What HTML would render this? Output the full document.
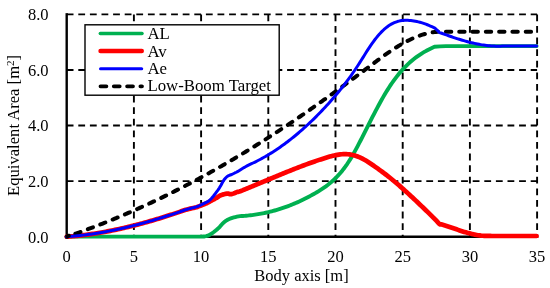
<!DOCTYPE html>
<html><head><meta charset="utf-8"><title>Equivalent Area</title><style>
html,body{margin:0;padding:0;background:#fff;}
body{width:550px;height:288px;overflow:hidden;}
svg{display:block;}
text{font-family:"Liberation Serif","Times New Roman",serif;fill:#000;}
</style></head><body>
<svg width="550" height="288" viewBox="0 0 550 288">
<rect width="550" height="288" fill="#fff"/>
<g stroke="#000" stroke-width="1.9" stroke-dasharray="6.8 4.8" fill="none">
<line x1="133.90" y1="14.38" x2="133.90" y2="236.70"/>
<line x1="201.10" y1="14.38" x2="201.10" y2="236.70"/>
<line x1="268.30" y1="14.38" x2="268.30" y2="236.70"/>
<line x1="335.50" y1="14.38" x2="335.50" y2="236.70"/>
<line x1="402.70" y1="14.38" x2="402.70" y2="236.70"/>
<line x1="469.90" y1="14.38" x2="469.90" y2="236.70"/>
<line x1="537.10" y1="14.38" x2="537.10" y2="236.70"/>
<line x1="66.70" y1="181.12" x2="537.10" y2="181.12"/>
<line x1="66.70" y1="125.54" x2="537.10" y2="125.54"/>
<line x1="66.70" y1="69.96" x2="537.10" y2="69.96"/>
<line x1="66.70" y1="14.38" x2="537.10" y2="14.38"/>
</g>
<g stroke="#000" stroke-width="2.4" fill="none" stroke-linecap="square">
<line x1="66.7" y1="14.38" x2="66.7" y2="236.7"/>
<line x1="66.7" y1="236.7" x2="537.10" y2="236.7"/>
</g>
<g fill="none" stroke-linejoin="round" stroke-linecap="round">
<path d="M66.70,236.65 L200.00,236.65 L201.54,236.58 L203.08,236.53 L204.62,236.45 L206.15,236.18 L207.69,235.72 L209.23,235.01 L210.77,234.06 L212.31,233.08 L213.85,232.01 L215.38,230.83 L216.92,229.54 L218.46,228.12 L220.00,226.54 L221.54,224.76 L223.08,223.13 L224.62,221.74 L226.15,220.64 L227.69,219.76 L229.23,219.02 L230.77,218.41 L232.31,217.89 L233.85,217.45 L235.38,217.05 L236.92,216.69 L238.46,216.37 L240.00,216.10 L241.51,216.02 L243.01,215.93 L244.52,215.82 L246.03,215.70 L247.53,215.57 L249.04,215.41 L250.55,215.25 L252.06,215.07 L253.56,214.87 L255.07,214.66 L256.58,214.43 L258.08,214.19 L259.59,213.93 L261.10,213.66 L262.60,213.37 L264.11,213.07 L265.62,212.75 L267.13,212.41 L268.63,212.06 L270.14,211.69 L271.65,211.31 L273.15,210.91 L274.66,210.50 L276.17,210.07 L277.67,209.62 L279.18,209.16 L280.69,208.68 L282.20,208.19 L283.70,207.68 L285.21,207.15 L286.72,206.61 L288.22,206.05 L289.73,205.47 L291.24,204.88 L292.74,204.27 L294.25,203.64 L295.76,203.00 L297.27,202.34 L298.77,201.67 L300.28,200.97 L301.79,200.26 L303.29,199.54 L304.80,198.79 L306.31,198.03 L307.81,197.25 L309.32,196.46 L310.83,195.64 L312.33,194.82 L313.84,193.97 L315.35,193.10 L316.86,192.22 L318.36,191.32 L319.87,190.39 L321.38,189.44 L322.88,188.45 L324.39,187.42 L325.90,186.35 L327.40,185.23 L328.91,184.05 L330.42,182.83 L331.93,181.54 L333.43,180.18 L334.94,178.76 L336.45,177.25 L337.95,175.67 L339.46,174.01 L340.97,172.25 L342.47,170.41 L343.98,168.46 L345.49,166.42 L347.00,164.27 L348.50,162.01 L350.01,159.65 L351.52,157.17 L353.02,154.58 L354.53,151.90 L356.04,149.13 L357.54,146.30 L359.05,143.42 L360.56,140.49 L362.07,137.54 L363.57,134.57 L365.08,131.58 L366.59,128.59 L368.09,125.60 L369.60,122.61 L371.11,119.64 L372.61,116.70 L374.12,113.78 L375.63,110.89 L377.13,108.05 L378.64,105.25 L380.15,102.50 L381.66,99.80 L383.16,97.16 L384.67,94.58 L386.18,92.06 L387.68,89.62 L389.19,87.24 L390.70,84.94 L392.20,82.73 L393.71,80.60 L395.22,78.54 L396.73,76.57 L398.23,74.68 L399.74,72.85 L401.25,71.11 L402.75,69.43 L404.26,67.82 L405.77,66.28 L407.27,64.80 L408.78,63.38 L410.29,62.03 L411.80,60.73 L413.30,59.49 L414.81,58.30 L416.32,57.16 L417.82,56.08 L419.33,55.04 L420.84,54.04 L422.34,53.09 L423.85,52.19 L425.36,51.32 L426.87,50.48 L428.37,49.68 L429.88,48.92 L431.39,48.19 L432.89,47.48 L434.40,46.80 L440.00,46.40 L446.00,46.15 L460.00,46.10 L536.60,46.10" stroke="#00B050" stroke-width="3.9"/>
<path d="M66.70,236.70 L68.21,236.60 L69.71,236.48 L71.22,236.36 L72.73,236.24 L74.23,236.10 L75.74,235.96 L77.24,235.81 L78.75,235.65 L80.26,235.49 L81.76,235.32 L83.27,235.14 L84.78,234.96 L86.28,234.77 L87.79,234.57 L89.29,234.37 L90.80,234.16 L92.31,233.94 L93.81,233.71 L95.32,233.48 L96.83,233.24 L98.33,233.00 L99.84,232.75 L101.35,232.49 L102.85,232.23 L104.36,231.96 L105.86,231.69 L107.37,231.41 L108.88,231.12 L110.38,230.83 L111.89,230.53 L113.40,230.22 L114.90,229.91 L116.41,229.60 L117.92,229.27 L119.42,228.95 L120.93,228.61 L122.43,228.28 L123.94,227.93 L125.45,227.58 L126.95,227.23 L128.46,226.87 L129.97,226.50 L131.47,226.13 L132.98,225.75 L134.48,225.37 L135.99,224.99 L137.50,224.60 L139.00,224.20 L140.51,223.80 L142.02,223.40 L143.52,222.99 L145.03,222.57 L146.54,222.15 L148.04,221.73 L149.55,221.30 L151.05,220.87 L152.56,220.43 L154.07,219.99 L155.57,219.54 L157.08,219.09 L158.59,218.64 L160.09,218.18 L161.60,217.71 L163.11,217.25 L164.61,216.78 L166.12,216.30 L167.62,215.82 L169.13,215.34 L170.64,214.86 L172.14,214.37 L173.65,213.87 L175.16,213.38 L176.66,212.88 L178.17,212.37 L179.67,211.86 L181.18,211.35 L182.69,210.84 L184.19,210.32 L185.70,209.80 L187.23,209.40 L188.77,209.01 L190.30,208.63 L191.84,208.28 L193.37,207.95 L194.91,207.59 L196.44,207.17 L197.97,206.65 L199.51,206.08 L201.04,205.51 L202.58,204.90 L204.11,204.28 L205.64,203.65 L207.18,202.98 L208.71,202.23 L210.25,201.33 L211.78,200.40 L213.32,199.56 L214.85,198.79 L216.38,197.97 L217.92,196.93 L219.45,195.89 L220.99,195.18 L222.52,194.62 L224.06,194.18 L225.59,193.82 L227.12,193.54 L228.66,193.68 L230.19,194.25 L231.73,194.12 L233.26,193.61 L234.79,193.00 L236.33,192.33 L237.86,191.87 L239.40,191.48 L240.93,190.98 L242.47,190.38 L244.00,189.70 L245.50,189.10 L247.01,188.49 L248.51,187.88 L250.02,187.26 L251.52,186.65 L253.03,186.03 L254.53,185.41 L256.04,184.79 L257.54,184.16 L259.05,183.54 L260.55,182.91 L262.06,182.28 L263.56,181.65 L265.06,181.03 L266.57,180.40 L268.07,179.77 L269.58,179.14 L271.08,178.51 L272.59,177.88 L274.09,177.25 L275.60,176.63 L277.10,176.00 L278.61,175.38 L280.11,174.76 L281.62,174.14 L283.12,173.52 L284.62,172.90 L286.13,172.29 L287.63,171.68 L289.14,171.07 L290.64,170.47 L292.15,169.87 L293.65,169.27 L295.16,168.68 L296.66,168.09 L298.17,167.50 L299.67,166.92 L301.18,166.34 L302.68,165.77 L304.18,165.21 L305.69,164.65 L307.19,164.09 L308.70,163.54 L310.20,163.00 L311.71,162.46 L313.21,161.93 L314.72,161.41 L316.22,160.89 L317.73,160.38 L319.23,159.88 L320.74,159.39 L322.24,158.90 L323.74,158.42 L325.25,157.95 L326.75,157.49 L328.26,157.04 L329.76,156.61 L331.27,156.20 L332.77,155.82 L334.28,155.46 L335.78,155.14 L337.29,154.86 L338.79,154.61 L340.30,154.42 L341.80,154.27 L343.30,154.17 L344.81,154.13 L346.31,154.16 L347.82,154.25 L349.32,154.40 L350.83,154.63 L352.33,154.93 L353.84,155.29 L355.34,155.72 L356.85,156.22 L358.35,156.79 L359.86,157.43 L361.36,158.12 L362.86,158.89 L364.37,159.70 L365.87,160.57 L367.38,161.48 L368.88,162.43 L370.39,163.42 L371.89,164.44 L373.40,165.48 L374.90,166.55 L376.41,167.62 L377.91,168.71 L379.42,169.80 L380.92,170.89 L382.42,172.00 L383.93,173.12 L385.43,174.25 L386.94,175.40 L388.44,176.57 L389.95,177.77 L391.45,178.98 L392.96,180.21 L394.46,181.46 L395.97,182.73 L397.47,184.01 L398.98,185.31 L400.48,186.63 L401.98,187.95 L403.49,189.30 L404.99,190.65 L406.50,192.01 L408.00,193.39 L409.51,194.77 L411.01,196.17 L412.52,197.57 L414.02,198.98 L415.53,200.40 L417.03,201.82 L418.54,203.25 L420.04,204.68 L421.54,206.12 L423.05,207.56 L424.55,209.00 L426.06,210.44 L427.56,211.89 L429.07,213.35 L430.57,214.82 L432.08,216.31 L433.58,217.83 L435.09,219.38 L436.59,220.97 L438.10,222.61 L439.60,224.30 L441.14,224.36 L442.68,224.82 L444.22,225.30 L445.76,225.78 L447.29,226.27 L448.83,226.78 L450.37,227.29 L451.91,227.80 L453.45,228.31 L454.99,228.83 L456.53,229.35 L458.07,229.88 L459.61,230.41 L461.14,230.92 L462.68,231.42 L464.22,231.90 L465.76,232.35 L467.30,232.77 L468.84,233.15 L470.38,233.52 L471.92,233.91 L473.46,234.31 L474.99,234.68 L476.53,234.97 L478.07,235.23 L479.61,235.43 L481.15,235.60 L482.69,235.73 L484.23,235.83 L485.77,235.88 L487.31,235.92 L488.84,235.94 L490.38,235.96 L491.92,235.98 L493.46,235.99 L495.00,236.00 L536.60,236.00" stroke="#FF0000" stroke-width="4.7"/>
<path d="M66.70,236.77 L68.20,236.25 L69.70,235.74 L71.20,235.22 L72.70,234.70 L74.21,234.17 L75.71,233.64 L77.21,233.11 L78.71,232.57 L80.21,232.03 L81.71,231.49 L83.21,230.94 L84.71,230.39 L86.22,229.84 L87.72,229.28 L89.22,228.72 L90.72,228.16 L92.22,227.59 L93.72,227.02 L95.22,226.44 L96.72,225.87 L98.22,225.29 L99.73,224.70 L101.23,224.11 L102.73,223.52 L104.23,222.93 L105.73,222.33 L107.23,221.73 L108.73,221.12 L110.23,220.52 L111.74,219.90 L113.24,219.29 L114.74,218.67 L116.24,218.05 L117.74,217.43 L119.24,216.80 L120.74,216.16 L122.24,215.53 L123.75,214.89 L125.25,214.25 L126.75,213.60 L128.25,212.95 L129.75,212.30 L131.25,211.65 L132.75,210.99 L134.25,210.33 L135.75,209.66 L137.26,208.99 L138.76,208.32 L140.26,207.64 L141.76,206.96 L143.26,206.28 L144.76,205.59 L146.26,204.91 L147.76,204.21 L149.27,203.52 L150.77,202.82 L152.27,202.11 L153.77,201.41 L155.27,200.70 L156.77,199.98 L158.27,199.27 L159.77,198.55 L161.28,197.83 L162.78,197.10 L164.28,196.37 L165.78,195.64 L167.28,194.90 L168.78,194.16 L170.28,193.42 L171.78,192.67 L173.28,191.92 L174.79,191.16 L176.29,190.41 L177.79,189.65 L179.29,188.88 L180.79,188.12 L182.29,187.35 L183.79,186.57 L185.29,185.80 L186.80,185.02 L188.30,184.23 L189.80,183.44 L191.30,182.65 L192.80,181.86 L194.30,181.06 L195.80,180.26 L197.30,179.46 L198.80,178.65 L200.31,177.84 L201.81,177.03 L203.31,176.21 L204.81,175.39 L206.31,174.56 L207.81,173.74 L209.31,172.91 L210.81,172.07 L212.32,171.23 L213.82,170.39 L215.32,169.55 L216.82,168.70 L218.32,167.85 L219.82,167.00 L221.32,166.14 L222.82,165.28 L224.32,164.41 L225.83,163.55 L227.33,162.68 L228.83,161.80 L230.33,160.92 L231.83,160.04 L233.33,159.16 L234.83,158.27 L236.33,157.38 L237.84,156.49 L239.34,155.59 L240.84,154.69 L242.34,153.78 L243.84,152.88 L245.34,151.96 L246.84,151.05 L248.34,150.13 L249.85,149.21 L251.35,148.29 L252.85,147.36 L254.35,146.43 L255.85,145.49 L257.35,144.56 L258.85,143.62 L260.35,142.67 L261.85,141.72 L263.36,140.77 L264.86,139.82 L266.36,138.86 L267.86,137.90 L269.36,136.94 L270.86,135.97 L272.36,135.00 L273.86,134.02 L275.37,133.05 L276.87,132.07 L278.37,131.08 L279.87,130.10 L281.37,129.11 L282.87,128.11 L284.37,127.12 L285.87,126.12 L287.38,125.12 L288.88,124.11 L290.38,123.10 L291.88,122.09 L293.38,121.08 L294.88,120.06 L296.38,119.04 L297.88,118.02 L299.38,116.99 L300.89,115.97 L302.39,114.93 L303.89,113.90 L305.39,112.86 L306.89,111.82 L308.39,110.78 L309.89,109.74 L311.39,108.69 L312.90,107.64 L314.40,106.59 L315.90,105.53 L317.40,104.48 L318.90,103.42 L320.40,102.35 L321.90,101.29 L323.40,100.22 L324.90,99.15 L326.41,98.08 L327.91,97.00 L329.41,95.93 L330.91,94.85 L332.41,93.76 L333.91,92.68 L335.41,91.59 L336.91,90.50 L338.42,89.41 L339.92,88.32 L341.42,87.23 L342.92,86.13 L344.42,85.03 L345.92,83.93 L347.42,82.82 L348.92,81.72 L350.43,80.61 L351.93,79.50 L353.43,78.39 L354.93,77.28 L356.43,76.16 L357.93,75.04 L359.43,73.92 L360.93,72.80 L362.43,71.68 L363.94,70.55 L365.44,69.43 L366.94,68.30 L368.44,67.17 L369.94,66.04 L371.44,64.91 L372.94,63.79 L374.44,62.66 L375.95,61.55 L377.45,60.43 L378.95,59.33 L380.45,58.23 L381.95,57.14 L383.45,56.06 L384.95,54.99 L386.45,53.93 L387.95,52.88 L389.46,51.85 L390.96,50.84 L392.46,49.83 L393.96,48.85 L395.46,47.88 L396.96,46.94 L398.46,46.01 L399.96,45.10 L401.47,44.22 L402.97,43.36 L404.47,42.52 L405.97,41.71 L407.47,40.92 L408.97,40.17 L410.47,39.44 L411.97,38.74 L413.47,38.07 L414.98,37.43 L416.48,36.82 L417.98,36.24 L419.48,35.69 L420.98,35.18 L422.48,34.69 L423.98,34.25 L425.48,33.83 L426.99,33.45 L428.49,33.11 L429.99,32.80 L431.49,32.53 L432.99,32.29 L434.49,32.09 L435.99,31.93 L437.49,31.81 L439.00,31.73 L440.50,31.69 L442.00,31.68 L443.50,31.72 L445.00,31.80 L537.10,31.80" stroke="#000" stroke-width="4.0" stroke-dasharray="5.40 7.90" stroke-dashoffset="4.12"/>
<path d="M66.70,236.70 L68.21,236.59 L69.71,236.48 L71.22,236.36 L72.73,236.23 L74.23,236.09 L75.74,235.95 L77.24,235.80 L78.75,235.64 L80.26,235.48 L81.76,235.31 L83.27,235.13 L84.78,234.95 L86.28,234.75 L87.79,234.56 L89.29,234.35 L90.80,234.14 L92.31,233.92 L93.81,233.70 L95.32,233.47 L96.83,233.23 L98.33,232.99 L99.84,232.74 L101.35,232.49 L102.85,232.23 L104.36,231.96 L105.86,231.68 L107.37,231.40 L108.88,231.12 L110.38,230.83 L111.89,230.53 L113.40,230.23 L114.90,229.92 L116.41,229.60 L117.92,229.28 L119.42,228.95 L120.93,228.62 L122.43,228.29 L123.94,227.94 L125.45,227.59 L126.95,227.24 L128.46,226.88 L129.97,226.52 L131.47,226.15 L132.98,225.77 L134.48,225.39 L135.99,225.00 L137.50,224.61 L139.00,224.22 L140.51,223.82 L142.02,223.41 L143.52,223.00 L145.03,222.59 L146.54,222.17 L148.04,221.74 L149.55,221.31 L151.05,220.88 L152.56,220.44 L154.07,219.99 L155.57,219.55 L157.08,219.09 L158.59,218.64 L160.09,218.17 L161.60,217.71 L163.11,217.24 L164.61,216.76 L166.12,216.29 L167.62,215.80 L169.13,215.32 L170.64,214.83 L172.14,214.33 L173.65,213.83 L175.16,213.33 L176.66,212.82 L178.17,212.31 L179.67,211.80 L181.18,211.28 L182.69,210.76 L184.19,210.23 L185.70,209.70 L187.23,209.26 L188.77,208.83 L190.30,208.42 L191.84,208.05 L193.37,207.70 L194.91,207.32 L196.44,206.86 L197.97,206.27 L199.51,205.62 L201.04,204.92 L202.58,204.17 L204.11,203.39 L205.64,202.68 L207.18,201.97 L208.71,201.05 L210.25,199.71 L211.78,198.05 L213.32,196.27 L214.85,194.29 L216.38,192.17 L217.92,190.07 L219.45,187.87 L220.99,185.18 L222.52,182.27 L224.06,179.83 L225.59,178.01 L227.12,176.44 L228.66,175.59 L230.19,175.03 L231.73,174.53 L233.26,173.75 L234.79,172.97 L236.33,172.25 L237.86,171.44 L239.40,170.49 L240.93,169.52 L242.47,168.56 L244.00,167.60 L245.50,166.75 L247.01,165.95 L248.51,165.19 L250.01,164.45 L251.52,163.72 L253.02,163.00 L254.52,162.28 L256.03,161.54 L257.53,160.78 L259.03,160.00 L260.53,159.20 L262.04,158.39 L263.54,157.56 L265.04,156.70 L266.55,155.83 L268.05,154.94 L269.55,154.03 L271.06,153.11 L272.56,152.16 L274.06,151.20 L275.57,150.21 L277.07,149.21 L278.57,148.19 L280.08,147.15 L281.58,146.09 L283.08,145.02 L284.59,143.92 L286.09,142.81 L287.59,141.68 L289.09,140.53 L290.60,139.36 L292.10,138.17 L293.60,136.96 L295.11,135.74 L296.61,134.49 L298.11,133.23 L299.62,131.95 L301.12,130.65 L302.62,129.33 L304.13,127.99 L305.63,126.63 L307.13,125.25 L308.64,123.85 L310.14,122.44 L311.64,121.00 L313.14,119.55 L314.65,118.07 L316.15,116.58 L317.65,115.06 L319.16,113.53 L320.66,111.97 L322.16,110.40 L323.67,108.81 L325.17,107.20 L326.67,105.56 L328.18,103.91 L329.68,102.24 L331.18,100.54 L332.69,98.83 L334.19,97.09 L335.69,95.33 L337.20,93.54 L338.70,91.73 L340.20,89.89 L341.70,88.01 L343.21,86.11 L344.71,84.17 L346.21,82.19 L347.72,80.18 L349.22,78.14 L350.72,76.05 L352.23,73.92 L353.73,71.75 L355.23,69.53 L356.74,67.27 L358.24,64.96 L359.74,62.61 L361.25,60.23 L362.75,57.83 L364.25,55.43 L365.76,53.03 L367.26,50.67 L368.76,48.35 L370.26,46.08 L371.77,43.88 L373.27,41.77 L374.77,39.75 L376.28,37.83 L377.78,36.01 L379.28,34.29 L380.79,32.67 L382.29,31.15 L383.79,29.72 L385.30,28.40 L386.80,27.19 L388.30,26.07 L389.81,25.06 L391.31,24.15 L392.81,23.35 L394.31,22.66 L395.82,22.06 L397.32,21.56 L398.82,21.15 L400.33,20.83 L401.83,20.59 L403.33,20.42 L404.84,20.32 L406.34,20.29 L407.84,20.32 L409.35,20.40 L410.85,20.53 L412.35,20.71 L413.86,20.93 L415.36,21.20 L416.86,21.51 L418.37,21.86 L419.87,22.25 L421.37,22.68 L422.87,23.15 L424.38,23.66 L425.88,24.20 L427.38,24.77 L428.89,25.38 L430.39,26.02 L431.89,26.68 L433.40,27.38 L434.90,28.10 L437.00,30.00 L439.40,32.60 L440.93,32.97 L442.45,33.53 L443.98,34.09 L445.51,34.64 L447.03,35.19 L448.56,35.73 L450.09,36.27 L451.61,36.79 L453.14,37.31 L454.67,37.82 L456.20,38.33 L457.72,38.82 L459.25,39.30 L460.78,39.77 L462.30,40.23 L463.83,40.68 L465.36,41.11 L466.88,41.53 L468.41,41.94 L469.94,42.33 L471.46,42.71 L472.99,43.07 L474.52,43.41 L476.04,43.74 L477.57,44.05 L479.10,44.34 L480.62,44.61 L482.15,44.86 L483.68,45.10 L485.20,45.31 L486.73,45.50 L488.26,45.67 L489.79,45.82 L491.31,45.94 L492.84,46.04 L494.37,46.11 L495.89,46.16 L497.42,46.19 L498.95,46.18 L500.47,46.16 L502.00,46.10 L536.60,46.10" stroke="#0000FF" stroke-width="3.0"/>
<line x1="67.4" y1="236.2" x2="68.9" y2="235.7" stroke="#000" stroke-width="3.9"/>
</g>
<g font-size="16.5" text-anchor="end">
<text x="48.5" y="242.60">0.0</text>
<text x="48.5" y="187.02">2.0</text>
<text x="48.5" y="131.44">4.0</text>
<text x="48.5" y="75.86">6.0</text>
<text x="48.5" y="20.28">8.0</text>
</g>
<g font-size="16.5" text-anchor="middle">
<text x="66.70" y="262.3">0</text>
<text x="133.90" y="262.3">5</text>
<text x="201.10" y="262.3">10</text>
<text x="268.30" y="262.3">15</text>
<text x="335.50" y="262.3">20</text>
<text x="402.70" y="262.3">25</text>
<text x="469.90" y="262.3">30</text>
<text x="537.10" y="262.3">35</text>
</g>
<text x="301.5" y="280.9" font-size="16.5" text-anchor="middle">Body axis [m]</text>
<text transform="translate(18.9,125.4) rotate(-90)" font-size="16.6" text-anchor="middle">Equivalent Area [m<tspan font-size="11" dy="-5.4">2</tspan><tspan dy="5.4">]</tspan></text>
<rect x="85" y="24.8" width="194.2" height="70.4" fill="#fff" stroke="#000" stroke-width="1.4"/>
<g fill="none" stroke-linecap="round">
<line x1="100.3" y1="33.5" x2="142" y2="33.5" stroke="#00B050" stroke-width="3.5"/>
<line x1="100.5" y1="51" x2="141.8" y2="51" stroke="#FF0000" stroke-width="4.4"/>
<line x1="100.5" y1="68.8" x2="141.7" y2="68.8" stroke="#0000FF" stroke-width="3"/>
<line x1="100.5" y1="86.3" x2="142" y2="86.3" stroke="#000" stroke-width="3.8" stroke-dasharray="5.9 7.4"/>
</g>
<g font-size="16.8">
<text x="147.4" y="38.9">AL</text>
<text x="147.4" y="56.7">Av</text>
<text x="147.4" y="73.8">Ae</text>
<text x="147.4" y="91.4">Low-Boom Target</text>
</g>
</svg>
</body></html>
